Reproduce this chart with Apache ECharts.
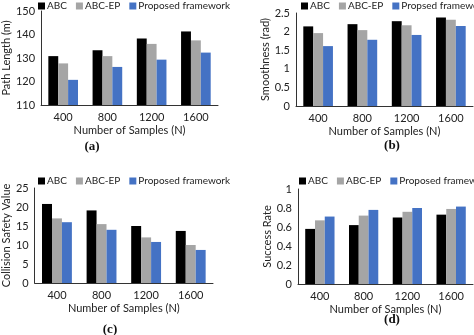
<!DOCTYPE html>
<html><head><meta charset="utf-8">
<script src="https://cdn.jsdelivr.net/npm/echarts@6/dist/echarts.min.js"></script>
<style>html,body{margin:0;padding:0;background:#fff}#c{width:474px;height:335px}</style>
</head><body><div id="c"></div>
<script>
var categories = ['400', '800', '1200', '1600'];
var seriesNames = ['ABC', 'ABC-EP', 'Proposed framework'];
var seriesNamesB = ['ABC', 'ABC-EP', 'Propsed framework'];
var pathABC = [130.8, 133.3, 138.3, 141.3];
var pathABCEP = [127.7, 130.8, 136.0, 137.5];
var pathProposed = [120.7, 126.2, 129.3, 132.3];
var smoothABC = [2.14, 2.2, 2.28, 2.38];
var smoothABCEP = [1.96, 2.04, 2.17, 2.32];
var smoothProposed = [1.61, 1.78, 1.91, 2.15];
var safetyABC = [20.8, 19.1, 15.0, 13.7];
var safetyABCEP = [17.0, 15.5, 12.0, 10.0];
var safetyProposed = [16.0, 14.0, 10.8, 8.7];
var successABC = [0.58, 0.62, 0.70, 0.73];
var successABCEP = [0.67, 0.72, 0.76, 0.79];
var successProposed = [0.71, 0.78, 0.80, 0.815];
var colors = ['#000000', '#a5a5a5', '#4472c4'];

var font = 'Lato';
var grids = [
  {left: 38, top: 11, width: 180, height: 94},
  {left: 296, top: 13, width: 177, height: 93},
  {left: 30, top: 188, width: 183, height: 95},
  {left: 298, top: 189, width: 175, height: 95}
];
var yNames = ['Path Length (m)', 'Smoothness (rad)', 'Collision Safety Value', 'Success Rate'];
var yCfg = [
  {min: 110, max: 150, interval: 10, gap: 24},
  {min: 0, max: 2.5, interval: 0.5, gap: 21},
  {min: 0, max: 25, interval: 5, gap: 20},
  {min: 0, max: 1, interval: 0.2, gap: 22}
];
var data = [
  [pathABC, pathABCEP, pathProposed],
  [smoothABC, smoothABCEP, smoothProposed],
  [safetyABC, safetyABCEP, safetyProposed],
  [successABC, successABCEP, successProposed]
];
var xAxes = [], yAxes = [], series = [], legends = [];
var legendPos = [
  {left: 38, top: 1},
  {left: 301, top: 1},
  {left: 38, top: 176},
  {left: 299, top: 176}
];
for (var i = 0; i < 4; i++) {
  xAxes.push({
    type: 'category', gridIndex: i, data: categories,
    name: 'Number of Samples (N)', nameLocation: 'middle', nameGap: 20,
    nameTextStyle: {fontFamily: font, fontSize: 11, color: '#222'},
    axisLine: {lineStyle: {color: '#333', width: 1}},
    axisTick: {show: false},
    axisLabel: {fontFamily: font, fontSize: 11, color: '#222', margin: 7}
  });
  yAxes.push({
    type: 'value', gridIndex: i, min: yCfg[i].min, max: yCfg[i].max, interval: yCfg[i].interval,
    name: yNames[i], nameLocation: 'middle', nameGap: yCfg[i].gap,
    nameTextStyle: {fontFamily: font, fontSize: 11, color: '#222'},
    axisLine: {show: true, lineStyle: {color: '#333', width: 1}},
    axisTick: {show: false},
    splitLine: {show: false},
    axisLabel: {fontFamily: font, fontSize: 11, color: '#222', margin: 6}
  });
  var names = i === 1 ? seriesNamesB : seriesNames;
  for (var s = 0; s < 3; s++) {
    series.push({
      type: 'bar', name: names[s], xAxisIndex: i, yAxisIndex: i,
      data: data[i][s], barGap: '0%', barCategoryGap: '33%',
      itemStyle: {color: colors[s]}
    });
  }
  legends.push({
    left: legendPos[i].left, top: legendPos[i].top, width: 400, padding: 0,
    orient: 'horizontal', data: names.slice(),
    icon: 'rect', itemWidth: 7, itemHeight: 7, itemGap: 9,
    textStyle: {fontFamily: font, fontSize: 10, color: '#222', padding: [0, 0, 0, -3]},
    selectedMode: false
  });
}
var titles = [
  {text: '(a)', left: 92, top: 140},
  {text: '(b)', left: 392, top: 139},
  {text: '(c)', left: 110, top: 323},
  {text: '(d)', left: 392, top: 313}
].map(function (t) {
  return {text: t.text, left: t.left, top: t.top, textAlign: 'center', padding: 0,
    textStyle: {fontFamily: 'Liberation Serif', fontWeight: 'bold', fontSize: 13, color: '#111'}};
});
var chart = echarts.init(document.getElementById('c'), null, {renderer: 'canvas'});
chart.setOption({
  animation: false,
  color: colors,
  title: titles,
  legend: legends,
  grid: grids,
  xAxis: xAxes,
  yAxis: yAxes,
  series: series
});
</script></body></html>
